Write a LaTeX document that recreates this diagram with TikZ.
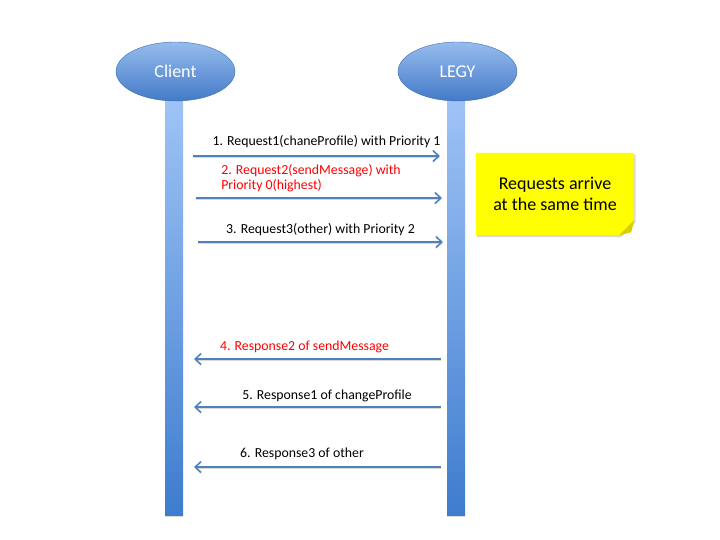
\documentclass[tikz,border=0pt]{standalone}
\usepackage{fontspec}
\setmainfont{Carlito}
\usetikzlibrary{shapes.geometric, arrows.meta, positioning, shadows}

\definecolor{actorTop}{RGB}{150,188,238}
\definecolor{actorBottom}{RGB}{68,122,200}
\definecolor{actorEdge}{RGB}{62,108,178}
\definecolor{barTop}{RGB}{160,196,246}
\definecolor{barBottom}{RGB}{62,124,206}
\definecolor{msgBlue}{RGB}{79,129,189}
\definecolor{noteYellow}{RGB}{255,255,0}
\definecolor{noteFold}{RGB}{214,206,0}

\begin{document}
\begin{tikzpicture}[
        x=1pt, y=-1pt,
        actor/.style={
            ellipse, draw=actorEdge, top color=actorTop, bottom color=actorBottom,
            minimum width=119pt, minimum height=59pt, text=white,
            font=\fontsize{18}{21}\selectfont
        },
        lifeline/.style={
            rectangle, top color=barTop, bottom color=barBottom,
            minimum width=18pt, minimum height=420pt, inner sep=0pt,
            drop shadow={shadow xshift=0pt, shadow yshift=-1.5pt, opacity=0.3}
        },
        msg/.style={
            line width=1.5pt, draw=msgBlue, -{Straight Barb[length=6pt, width=11pt]},
            preaction={draw=black!15, transform canvas={yshift=-1.5pt}}
        },
        msgLabel/.style={
            font=\fontsize{13.8}{15}\selectfont, inner sep=0pt, align=left
        },
        noteBox/.style={
            minimum width=158pt, minimum height=82pt, align=center,
            font=\fontsize{18}{21}\selectfont
        }
    ]
        \useasboundingbox (0,0) rectangle (720,540);

        % Lifelines
        \node (clientBar) [lifeline] at (174,305) {};
        \node (legyBar) [lifeline] at (456,305) {};

        % Actors
        \node (client) [actor] at (175.5,71.5) {Client};
        \node (legy) [actor] at (457.5,71.5) {LEGY};

        % Sticky note
        \node (note) [noteBox] at (555,194) {};
        \fill [black!30, opacity=0.5] ([shift={(1,2)}]note.north west) -- ([shift={(1.5,2)}]note.north east)
            -- ([shift={(1.5,-13)}]note.south east) -- ([shift={(-13,2)}]note.south east)
            -- ([shift={(1,2)}]note.south west) -- cycle;
        \fill [noteYellow] (note.north west) -- (note.north east) -- ([yshift=15pt]note.south east)
            -- ([xshift=-15pt]note.south east) -- (note.south west) -- cycle;
        \fill [noteFold] ([yshift=15pt]note.south east) -- ([xshift=-15pt]note.south east)
            -- ([shift={(-3,-3)}]note.south east) -- cycle;
        \node [noteBox] at (note) {Requests arrive\\at the same time};

        % Message end points
        \coordinate (req1a) at (193,156);   \coordinate (req1b) at (440,156);
        \coordinate (req2a) at (196,198);   \coordinate (req2b) at (442,198);
        \coordinate (req3a) at (198,242);   \coordinate (req3b) at (443,242);
        \coordinate (res2a) at (441,359);   \coordinate (res2b) at (194,359);
        \coordinate (res1a) at (441,407);   \coordinate (res1b) at (194,407);
        \coordinate (res3a) at (441,467);   \coordinate (res3b) at (194,467);

        % Requests
        \draw [msg] (req1a) -- (req1b) node [msgLabel, midway, yshift=14pt, xshift=10pt] {1. Request1(chaneProfile) with Priority 1};
        \draw [msg] (req2a) -- (req2b) node [msgLabel, midway, yshift=20pt, xshift=-8pt, text=red] {2. Request2(sendMessage) with\\Priority 0(highest)};
        \draw [msg] (req3a) -- (req3b) node [msgLabel, midway, yshift=12pt] {3. Request3(other) with Priority 2};

        % Responses
        \draw [msg] (res2a) -- (res2b) node [msgLabel, midway, yshift=12pt, xshift=-13pt, text=red] {4. Response2 of sendMessage};
        \draw [msg] (res1a) -- (res1b) node [msgLabel, midway, yshift=11pt, xshift=9.5pt] {5. Response1 of changeProfile};
        \draw [msg] (res3a) -- (res3b) node [msgLabel, midway, yshift=13pt, xshift=-15.5pt] {6. Response3 of other};
    \end{tikzpicture}
\end{document}
